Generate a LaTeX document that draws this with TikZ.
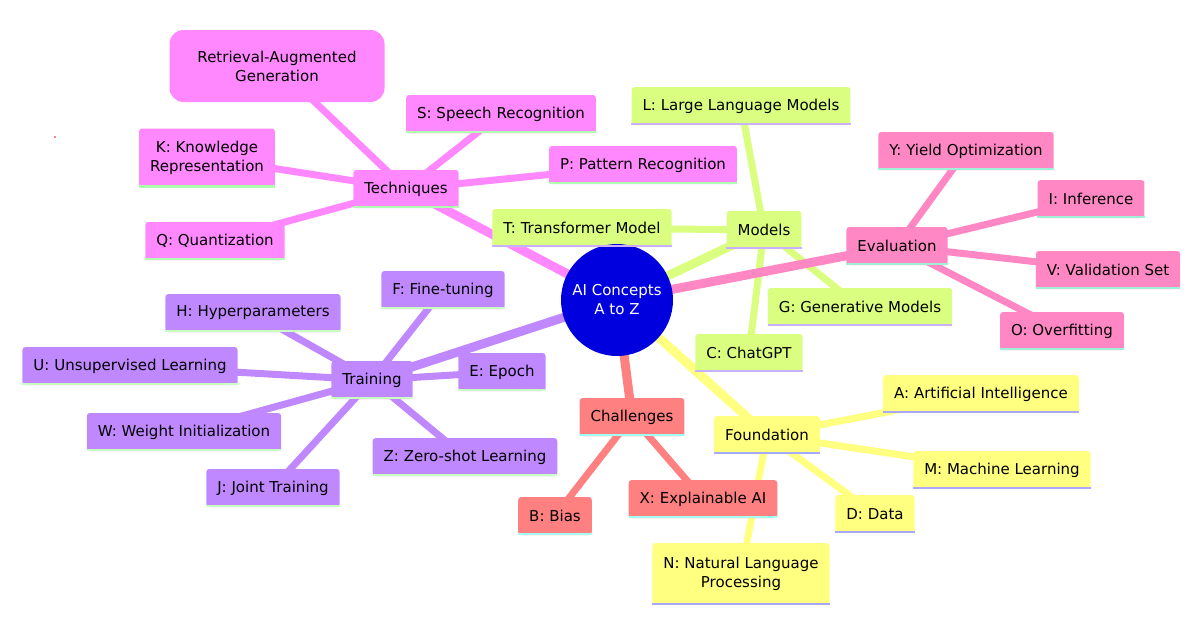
\documentclass[tikz,border=0pt]{standalone}
\usepackage{fontspec}
\setmainfont{DejaVu Sans}
\pgfdeclarelayer{bg}\pgfsetlayers{bg,main}
\begin{document}
\begin{tikzpicture}[x=1pt,y=-1pt,
  every node/.style={font=\fontsize{15}{19}\selectfont, inner xsep=11pt, minimum height=38pt, align=center, rounded corners=3pt},
  kY/.style={fill=cyel}, kG/.style={fill=cgrn}, kP/.style={fill=cpnk}, kM/.style={fill=cmag}, kV/.style={fill=cpur}, kS/.style={fill=csal},
  br/.style={line width=#1, line cap=round},
]
\definecolor{cyel}{HTML}{FFFF80}\definecolor{cgrn}{HTML}{DAFF80}\definecolor{cpnk}{HTML}{FF88C4}
\definecolor{cmag}{HTML}{FF88FF}\definecolor{cpur}{HTML}{C088FF}\definecolor{csal}{HTML}{FF8080}
\definecolor{byel}{HTML}{A8A8FF}\definecolor{bgrn}{HTML}{C8B0FF}\definecolor{bpnk}{HTML}{A0F0D8}
\definecolor{bmag}{HTML}{B0FFB0}\definecolor{bpur}{HTML}{C8FFC0}\definecolor{bsal}{HTML}{A0FFF0}
\useasboundingbox (0,0) rectangle (1200,621);
\fill[red] (55,137) circle (0.8);
% nodes
\node[kM] (tec) at (406,189) {Techniques};
\node[kM,minimum width=215pt,minimum height=72pt,rounded corners=14pt] (rag) at (277,66) {Retrieval-Augmented\\Generation};
\node[kM] (s) at (501,114) {S: Speech Recognition};
\node[kM,minimum height=59pt] (k) at (207,158) {K: Knowledge\\Representation};
\node[kM] (p) at (643,165) {P: Pattern Recognition};
\node[kM] (q) at (215,241) {Q: Quantization};
\node[kG] (mod) at (764,230) {Models};
\node[kG] (l) at (741,106) {L: Large Language Models};
\node[kG] (t) at (582,228) {T: Transformer Model};
\node[kG] (g) at (860,307) {G: Generative Models};
\node[kG] (c) at (749,353) {C: ChatGPT};
\node[kP] (ev) at (897,246) {Evaluation};
\node[kP] (y) at (966,151) {Y: Yield Optimization};
\node[kP] (i) at (1091,199) {I: Inference};
\node[kP] (v) at (1108,270) {V: Validation Set};
\node[kP] (o) at (1062,331) {O: Overfitting};
\node[kY] (fo) at (767,435) {Foundation};
\node[kY] (a) at (981,394) {A: Artificial Intelligence};
\node[kY] (m) at (1002,470) {M: Machine Learning};
\node[kY] (d) at (875,514) {D: Data};
\node[kY,minimum height=62pt] (n) at (741,574) {N: Natural Language\\Processing};
\node[kS] (ch) at (632,417) {Challenges};
\node[kS] (b) at (555,516) {B: Bias};
\node[kS] (x) at (703,499) {X: Explainable AI};
\node[kV] (tr) at (372,380) {Training};
\node[kV] (f) at (443,290) {F: Fine-tuning};
\node[kV] (h) at (253,313) {H: Hyperparameters};
\node[kV] (u) at (130,366) {U: Unsupervised Learning};
\node[kV] (e) at (502,372) {E: Epoch};
\node[kV] (w) at (184,432) {W: Weight Initialization};
\node[kV] (z) at (465,457) {Z: Zero-shot Learning};
\node[kV] (j) at (273,488) {J: Joint Training};
\node[circle,fill=blue!87!black,text=white,minimum size=112pt,inner sep=0pt] (ctr) at (617,300) {AI Concepts\\A to Z};
% edges (behind)
\begin{pgfonlayer}{bg}
\draw[br=9pt,cmag] (ctr.center) -- (tec.center);
\foreach \t in {rag,s,k,p,q} \draw[br=7pt,cmag] (tec.center) -- (\t.center);
\draw[br=9pt,cgrn] (ctr.center) -- (mod.center);
\foreach \t in {l,t,g,c} \draw[br=7pt,cgrn] (mod.center) -- (\t.center);
\draw[br=9pt,cpnk] (ctr.center) -- (ev.center);
\foreach \t in {y,i,v,o} \draw[br=7pt,cpnk] (ev.center) -- (\t.center);
\draw[br=9pt,cyel] (ctr.center) -- (fo.center);
\foreach \t in {a,m,d,n} \draw[br=7pt,cyel] (fo.center) -- (\t.center);
\draw[br=9pt,csal] (ctr.center) -- (ch.center);
\foreach \t in {b,x} \draw[br=7pt,csal] (ch.center) -- (\t.center);
\draw[br=9pt,cpur] (ctr.center) -- (tr.center);
\foreach \t in {f,h,u,e,w,z,j} \draw[br=7pt,cpur] (tr.center) -- (\t.center);
\end{pgfonlayer}
% bottom stripes
\foreach \nn/\cc in {tec/bmag,s/bmag,k/bmag,p/bmag,q/bmag,mod/bgrn,l/bgrn,t/bgrn,g/bgrn,c/bgrn,ev/bpnk,y/bpnk,i/bpnk,v/bpnk,o/bpnk,fo/byel,a/byel,m/byel,d/byel,n/byel,ch/bsal,b/bsal,x/bsal,tr/bpur,f/bpur,h/bpur,u/bpur,e/bpur,w/bpur,z/bpur,j/bpur}
  \draw[\cc,line width=2.5pt] ([yshift=1.25pt]\nn.south west) -- ([yshift=1.25pt]\nn.south east);
\end{tikzpicture}
\end{document}
